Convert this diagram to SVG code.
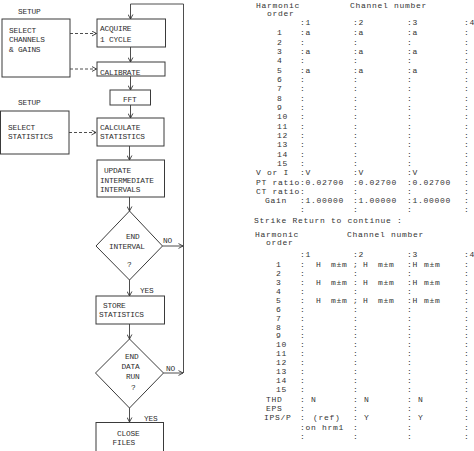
<svg xmlns="http://www.w3.org/2000/svg" width="474" height="451" viewBox="0 0 474 451">
<defs>
<style>
.bx{fill:none;stroke:#3a3a3a;stroke-width:1}
.ln{fill:none;stroke:#3a3a3a;stroke-width:0.9}
.ds{fill:none;stroke:#3a3a3a;stroke-width:0.9;stroke-dasharray:3 2}
.f{font-family:"Liberation Mono",monospace;font-size:7.8px;letter-spacing:-0.2px;fill:#2e2e2e}
.t{font-family:"Liberation Mono",monospace;font-size:8px;letter-spacing:0.7px;fill:#333}
</style>
<marker id="ah" markerWidth="6" markerHeight="6" refX="5" refY="3" orient="auto" markerUnits="userSpaceOnUse">
<path d="M0.5,0.6 L5,3 L0.5,5.4" fill="none" stroke="#333" stroke-width="0.9"/>
</marker>
</defs>
<rect width="474" height="451" fill="#fff"/>

<g id="connectors">
<path class="ln" d="M183.5,373 L183.5,4 L130.5,4 L130.5,19" marker-end="url(#ah)"/>
<path class="ln" d="M130.5,47 L130.5,62" marker-end="url(#ah)"/>
<path class="ln" d="M130.5,76 L130.5,90" marker-end="url(#ah)"/>
<path class="ln" d="M130.5,105 L130.5,118" marker-end="url(#ah)"/>
<path class="ln" d="M129.5,146 L129.5,160" marker-end="url(#ah)"/>
<path class="ln" d="M129.5,197 L129.5,211" marker-end="url(#ah)"/>
<path class="ln" d="M129.5,280 L129.5,296" marker-end="url(#ah)"/>
<path class="ln" d="M129.5,324 L129.5,339" marker-end="url(#ah)"/>
<path class="ln" d="M129.5,408 L129.5,422" marker-end="url(#ah)"/>
<path class="ln" d="M162.5,246 L183,246" marker-end="url(#ah)"/>
<path class="ln" d="M163.5,373 L183,373" marker-end="url(#ah)"/>
<path class="ds" d="M70,33.5 L96.5,33.5" marker-end="url(#ah)"/>
<path class="ds" d="M70,69 L96.5,69" marker-end="url(#ah)"/>
<path class="ds" d="M69,132.5 L96,132.5" marker-end="url(#ah)"/>
<text class="f" x="163" y="243">NO</text>
<text class="f" x="166" y="370.5">NO</text>
<text class="f" x="140" y="292.5">YES</text>
<text class="f" x="144" y="420.5">YES</text>
</g>

<g id="setup1">
<text class="f" x="18" y="13.5">SETUP</text>
<rect class="bx" x="2" y="19" width="68" height="58"/>
<text class="f" x="9" y="32.5">SELECT</text>
<text class="f" x="9" y="42">CHANNELS</text>
<text class="f" x="9" y="51.5">&amp; GAINS</text>
</g>

<g id="acquire">
<rect class="bx" x="97" y="19" width="68.5" height="28"/>
<text class="f" x="100" y="31">ACQUIRE</text>
<text class="f" x="100" y="42">1 CYCLE</text>
</g>

<g id="calibrate">
<rect class="bx" x="97" y="62" width="68" height="14"/>
<text class="f" x="100" y="75">CALIBRATE</text>
</g>

<g id="fft">
<rect class="bx" x="110" y="90" width="40.5" height="15"/>
<text class="f" x="123" y="101.5">FFT</text>
</g>

<g id="setup2">
<text class="f" x="18" y="104.5">SETUP</text>
<rect class="bx" x="0.5" y="111" width="68.5" height="43"/>
<text class="f" x="8" y="129.5">SELECT</text>
<text class="f" x="8" y="139">STATISTICS</text>
</g>

<g id="calculate">
<rect class="bx" x="97" y="118" width="67" height="28"/>
<text class="f" x="100" y="129.5">CALCULATE</text>
<text class="f" x="100" y="139">STATISTICS</text>
</g>

<g id="update">
<rect class="bx" x="97" y="160" width="67.5" height="37"/>
<text class="f" x="104" y="173">UPDATE</text>
<text class="f" x="100" y="182.5">INTERMEDIATE</text>
<text class="f" x="100" y="192">INTERVALS</text>
</g>

<g id="end-interval">
<polygon class="bx" points="129.5,211 162.5,246 129.5,280 96,246"/>
<text class="f" x="126" y="239">END</text>
<text class="f" x="109" y="248.5">INTERVAL</text>
<text class="f" x="127" y="266.5">?</text>
</g>

<g id="store">
<rect class="bx" x="96" y="296" width="68.5" height="28"/>
<text class="f" x="103" y="307.5">STORE</text>
<text class="f" x="99" y="317">STATISTICS</text>
</g>

<g id="end-data-run">
<polygon class="bx" points="129.5,339 163.5,373 129.5,408 95.5,373"/>
<text class="f" x="125" y="359">END</text>
<text class="f" x="121.5" y="369">DATA</text>
<text class="f" x="126" y="378.5">RUN</text>
<text class="f" x="131" y="390">?</text>
</g>

<g id="close">
<rect class="bx" x="96" y="422.5" width="67.5" height="40"/>
<text class="f" x="117" y="436">CLOSE</text>
<text class="f" x="112.5" y="445">FILES</text>
</g>

<g id="table1">
<text class="t" x="256" y="8">Harmonic</text>
<text class="t" x="350" y="8">Channel number</text>
<text class="t" x="267" y="16">order</text>
<text class="t" y="25"><tspan x="300">:1</tspan><tspan x="353">:2</tspan><tspan x="407">:3</tspan><tspan x="464">:4</tspan></text>
<text class="t" y="35.2"><tspan x="277">1</tspan><tspan x="300">:a</tspan><tspan x="353">:a</tspan><tspan x="407">:a</tspan><tspan x="464">:</tspan></text>
<text class="t" y="44.5"><tspan x="277">2</tspan><tspan x="300">:</tspan><tspan x="353">:</tspan><tspan x="407">:</tspan><tspan x="464">:</tspan></text>
<text class="t" y="53.9"><tspan x="277">3</tspan><tspan x="300">:a</tspan><tspan x="353">:a</tspan><tspan x="407">:a</tspan><tspan x="464">:</tspan></text>
<text class="t" y="63.2"><tspan x="277">4</tspan><tspan x="300">:</tspan><tspan x="353">:</tspan><tspan x="407">:</tspan><tspan x="464">:</tspan></text>
<text class="t" y="72.5"><tspan x="277">5</tspan><tspan x="300">:a</tspan><tspan x="353">:a</tspan><tspan x="407">:a</tspan><tspan x="464">:</tspan></text>
<text class="t" y="81.9"><tspan x="277">6</tspan><tspan x="300">:</tspan><tspan x="353">:</tspan><tspan x="407">:</tspan><tspan x="464">:</tspan></text>
<text class="t" y="91.2"><tspan x="277">7</tspan><tspan x="300">:</tspan><tspan x="353">:</tspan><tspan x="407">:</tspan><tspan x="464">:</tspan></text>
<text class="t" y="100.5"><tspan x="277">8</tspan><tspan x="300">:</tspan><tspan x="353">:</tspan><tspan x="407">:</tspan><tspan x="464">:</tspan></text>
<text class="t" y="109.8"><tspan x="277">9</tspan><tspan x="300">:</tspan><tspan x="353">:</tspan><tspan x="407">:</tspan><tspan x="464">:</tspan></text>
<text class="t" y="119.2"><tspan x="277">10</tspan><tspan x="300">:</tspan><tspan x="353">:</tspan><tspan x="407">:</tspan><tspan x="464">:</tspan></text>
<text class="t" y="128.5"><tspan x="277">11</tspan><tspan x="300">:</tspan><tspan x="353">:</tspan><tspan x="407">:</tspan><tspan x="464">:</tspan></text>
<text class="t" y="137.8"><tspan x="277">12</tspan><tspan x="300">:</tspan><tspan x="353">:</tspan><tspan x="407">:</tspan><tspan x="464">:</tspan></text>
<text class="t" y="147.2"><tspan x="277">13</tspan><tspan x="300">:</tspan><tspan x="353">:</tspan><tspan x="407">:</tspan><tspan x="464">:</tspan></text>
<text class="t" y="156.5"><tspan x="277">14</tspan><tspan x="300">:</tspan><tspan x="353">:</tspan><tspan x="407">:</tspan><tspan x="464">:</tspan></text>
<text class="t" y="165.8"><tspan x="277">15</tspan><tspan x="300">:</tspan><tspan x="353">:</tspan><tspan x="407">:</tspan><tspan x="464">:</tspan></text>
<text class="t" y="175.2"><tspan x="256">V or I</tspan><tspan x="300">:V</tspan><tspan x="353">:V</tspan><tspan x="407">:V</tspan><tspan x="464">:</tspan></text>
<text class="t" y="184.5"><tspan x="256">PT ratio</tspan><tspan x="300">:0.02700</tspan><tspan x="353">:0.02700</tspan><tspan x="407">:0.02700</tspan><tspan x="464">:</tspan></text>
<text class="t" y="193.8"><tspan x="256">CT ratio</tspan><tspan x="300">:</tspan><tspan x="353">:</tspan><tspan x="407">:</tspan><tspan x="464">:</tspan></text>
<text class="t" y="203.1"><tspan x="265">Gain</tspan><tspan x="300">:1.00000</tspan><tspan x="353">:1.00000</tspan><tspan x="407">:1.00000</tspan><tspan x="464">:</tspan></text>
<text class="t" y="212.4"><tspan x="300">:</tspan><tspan x="353">:</tspan><tspan x="407">:</tspan><tspan x="464">:</tspan></text>
<text class="t" x="254" y="222.5">Strike Return to continue :</text>
</g>

<g id="table2">
<text class="t" x="255" y="237">Harmonic</text>
<text class="t" x="347" y="237">Channel number</text>
<text class="t" x="266" y="245">order</text>
<text class="t" y="257"><tspan x="300">:1</tspan><tspan x="353">:2</tspan><tspan x="407">:3</tspan><tspan x="464">:4</tspan></text>
<text class="t" y="267"><tspan x="276">1</tspan><tspan x="300">:</tspan><tspan x="316">H</tspan><tspan x="331">m±m</tspan><tspan x="353">;</tspan><tspan x="363">H</tspan><tspan x="378">m±m</tspan><tspan x="407">:H</tspan><tspan x="424">m±m</tspan><tspan x="464">:</tspan></text>
<text class="t" y="275.9"><tspan x="276">2</tspan><tspan x="300">:</tspan><tspan x="353">:</tspan><tspan x="407">:</tspan><tspan x="464">:</tspan></text>
<text class="t" y="284.9"><tspan x="276">3</tspan><tspan x="300">:</tspan><tspan x="316">H</tspan><tspan x="331">m±m</tspan><tspan x="353">:</tspan><tspan x="363">H</tspan><tspan x="378">m±m</tspan><tspan x="407">:H</tspan><tspan x="424">m±m</tspan><tspan x="464">:</tspan></text>
<text class="t" y="293.8"><tspan x="276">4</tspan><tspan x="300">:</tspan><tspan x="353">:</tspan><tspan x="407">:</tspan><tspan x="464">:</tspan></text>
<text class="t" y="302.7"><tspan x="276">5</tspan><tspan x="300">:</tspan><tspan x="316">H</tspan><tspan x="331">m±m</tspan><tspan x="353">;</tspan><tspan x="363">H</tspan><tspan x="378">m±m</tspan><tspan x="407">:H</tspan><tspan x="424">m±m</tspan><tspan x="464">:</tspan></text>
<text class="t" y="311.7"><tspan x="276">6</tspan><tspan x="300">:</tspan><tspan x="353">:</tspan><tspan x="407">:</tspan><tspan x="464">:</tspan></text>
<text class="t" y="320.6"><tspan x="276">7</tspan><tspan x="300">:</tspan><tspan x="353">:</tspan><tspan x="407">:</tspan><tspan x="464">:</tspan></text>
<text class="t" y="329.5"><tspan x="276">8</tspan><tspan x="300">:</tspan><tspan x="353">:</tspan><tspan x="407">:</tspan><tspan x="464">:</tspan></text>
<text class="t" y="338.4"><tspan x="276">9</tspan><tspan x="300">:</tspan><tspan x="353">:</tspan><tspan x="407">:</tspan><tspan x="464">:</tspan></text>
<text class="t" y="347.4"><tspan x="276">10</tspan><tspan x="300">:</tspan><tspan x="353">:</tspan><tspan x="407">:</tspan><tspan x="464">:</tspan></text>
<text class="t" y="356.3"><tspan x="276">11</tspan><tspan x="300">:</tspan><tspan x="353">:</tspan><tspan x="407">:</tspan><tspan x="464">:</tspan></text>
<text class="t" y="365.2"><tspan x="276">12</tspan><tspan x="300">:</tspan><tspan x="353">:</tspan><tspan x="407">:</tspan><tspan x="464">:</tspan></text>
<text class="t" y="374.2"><tspan x="276">13</tspan><tspan x="300">:</tspan><tspan x="353">:</tspan><tspan x="407">:</tspan><tspan x="464">:</tspan></text>
<text class="t" y="383.1"><tspan x="276">14</tspan><tspan x="300">:</tspan><tspan x="353">:</tspan><tspan x="407">:</tspan><tspan x="464">:</tspan></text>
<text class="t" y="392"><tspan x="276">15</tspan><tspan x="300">:</tspan><tspan x="353">:</tspan><tspan x="407">:</tspan><tspan x="464">:</tspan></text>
<text class="t" y="402"><tspan x="266">THD</tspan><tspan x="300">: N</tspan><tspan x="353">: N</tspan><tspan x="407">: N</tspan><tspan x="464">:</tspan></text>
<text class="t" y="411"><tspan x="266">EPS</tspan><tspan x="300">:</tspan><tspan x="353">:</tspan><tspan x="407">:</tspan><tspan x="464">:</tspan></text>
<text class="t" y="420"><tspan x="264">IPS/P</tspan><tspan x="300">:</tspan><tspan x="313">(ref)</tspan><tspan x="353">: Y</tspan><tspan x="407">: Y</tspan><tspan x="464">:</tspan></text>
<text class="t" y="429.5"><tspan x="300">:on hrm1</tspan><tspan x="353">:</tspan><tspan x="407">:</tspan><tspan x="464">:</tspan></text>
<text class="t" y="438.5"><tspan x="300">:</tspan><tspan x="353">:</tspan><tspan x="407">:</tspan><tspan x="464">:</tspan></text>
</g>
</svg>
